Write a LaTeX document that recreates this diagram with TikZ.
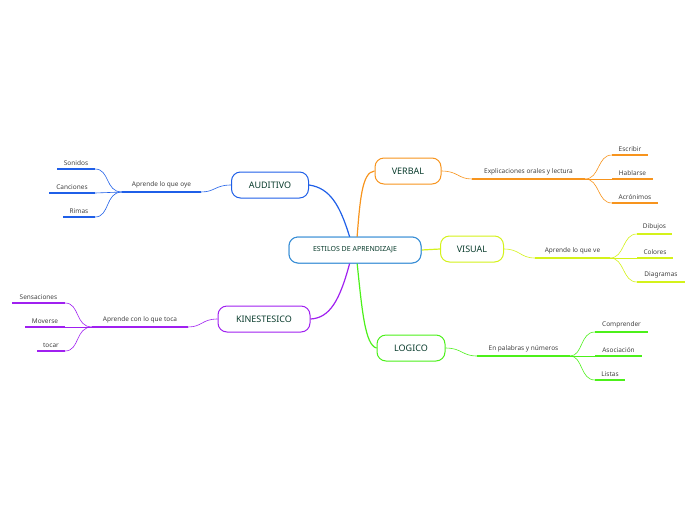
\documentclass[tikz,border=0pt]{standalone}
\usepackage{fontspec}
\setmainfont{Noto Sans}
\begin{document}
\begin{tikzpicture}[x=1pt,y=-1pt,
 main/.style={draw=#1,line width=1pt,rounded corners=9pt,fill=white,minimum height=26pt,font=\fontsize{9}{10}\selectfont,text=txt,inner xsep=8pt},
 lab/.style={font=\fontsize{6.5}{8}\selectfont,text=black!75,inner sep=1pt,anchor=south},
 thick1/.style={draw=#1,line width=1.6pt},
 thin1/.style={draw=#1,line width=0.6pt},
 mid/.style={draw=#1,line width=1.2pt}]
\definecolor{txt}{HTML}{0B3D2E}
\definecolor{cb}{HTML}{1F5FE8}
\definecolor{cp}{HTML}{A020F0}
\definecolor{co}{HTML}{F7941D}
\definecolor{cy}{HTML}{D4F21A}
\definecolor{cg}{HTML}{4CF01A}
\definecolor{cc}{HTML}{3A8FD6}
\useasboundingbox (0,0) rectangle (696,520);
% central
\node[main=cc,minimum width=132pt,font=\fontsize{7}{8}\selectfont] (c) at (355,250) {ESTILOS DE APRENDIZAJE};
\node[main=cb,minimum width=77pt] (au) at (270,185) {AUDITIVO};
\node[main=cp,minimum width=92pt] (ki) at (264,319) {KINESTESICO};
\node[main=co,minimum width=66pt] (ve) at (408,171) {VERBAL};
\node[main=cy,minimum width=63pt] (vi) at (472,249) {VISUAL};
\node[main=cg,minimum width=68pt] (lo) at (411,348) {LOGICO};
\begin{scope}[on background layer/.style={}]
\end{scope}
% central connectors
\coordinate (c1) at (350,238); \coordinate (c2) at (357,238);
\coordinate (c3) at (350,262); \coordinate (c4) at (357,262);
\draw[mid=cb] (c1) .. controls (340,205) and (330,188) .. (au.east);
\draw[mid=co] (c2) .. controls (360,200) and (362,172) .. (ve.west);
\draw[mid=cp] (c3) .. controls (340,300) and (330,318) .. (ki.east);
\draw[mid=cg] (c4) .. controls (362,310) and (365,345) .. (lo.west);
\draw[mid=cy] (c.east) -- (vi.west);
% AUDITIVO
\coordinate (a1) at (201,192); \coordinate (a0) at (122,192);
\draw[thin1=cb] (au.west) .. controls (215,185) and (215,192) .. (a1);
\draw[thick1=cb] (a0) -- (a1) node[lab,midway,yshift=2pt] (at) {Aprende lo que oye};
\coordinate (a2) at (95,169);\coordinate (a3) at (95,193);\coordinate (a4) at (95,217);
\draw[thin1=cb] (a0) .. controls (105,192) and (110,169) .. (a2);
\draw[thin1=cb] (a0) -- (a3);
\draw[thin1=cb] (a0) .. controls (105,192) and (110,217) .. (a4);
\draw[thick1=cb] (57,169) -- (a2) node[lab,midway,yshift=2pt] (s1) {Sonidos};
\draw[thick1=cb] (49,193) -- (a3) node[lab,midway,yshift=2pt] (s2) {Canciones};
\draw[thick1=cb] (63,217) -- (a4) node[lab,midway,yshift=2pt] (s3) {Rimas};
% KINESTESICO
\coordinate (k1) at (188,327); \coordinate (k0) at (92,327);
\draw[thin1=cp] (ki.west) .. controls (202,319) and (202,327) .. (k1);
\draw[thick1=cp] (k0) -- (k1) node[lab,midway,yshift=2pt] (kt) {Aprende con lo que toca};
\coordinate (k2) at (65,303);\coordinate (k3) at (65,327);\coordinate (k4) at (65,351);
\draw[thin1=cp] (k0) .. controls (75,327) and (80,303) .. (k2);
\draw[thin1=cp] (k0) -- (k3);
\draw[thin1=cp] (k0) .. controls (75,327) and (80,351) .. (k4);
\draw[thick1=cp] (12,303) -- (k2) node[lab,midway,yshift=2pt] (ks1) {Sensaciones};
\draw[thick1=cp] (25,327) -- (k3) node[lab,midway,yshift=2pt] (ks2) {Moverse};
\draw[thick1=cp] (37,351) -- (k4) node[lab,midway,yshift=2pt] (ks3) {tocar};
% VERBAL
\coordinate (v1) at (472,179); \coordinate (v0) at (585,179);
\draw[thin1=co] (ve.east) .. controls (458,171) and (458,179) .. (v1);
\draw[thick1=co] (v1) -- (v0) node[lab,midway,yshift=2pt] (vt) {Explicaciones orales y lectura};
\coordinate (v2) at (612,155);\coordinate (v3) at (612,179);\coordinate (v4) at (612,203);
\draw[thin1=co] (v0) .. controls (600,179) and (597,155) .. (v2);
\draw[thin1=co] (v0) -- (v3);
\draw[thin1=co] (v0) .. controls (600,179) and (597,203) .. (v4);
\draw[thick1=co] (v2) -- (648,155) node[lab,midway,yshift=2pt] (vs1) {Escribir};
\draw[thick1=co] (v3) -- (653,179) node[lab,midway,yshift=2pt] (vs2) {Hablarse};
\draw[thick1=co] (v4) -- (658,203) node[lab,midway,yshift=2pt] (vs3) {Acrónimos};
% VISUAL
\coordinate (w1) at (535,258); \coordinate (w0) at (610,258);
\draw[thin1=cy] (vi.east) .. controls (520,249) and (520,258) .. (w1);
\draw[thick1=cy] (w1) -- (w0) node[lab,midway,yshift=2pt] (wt) {Aprende lo que ve};
\coordinate (w2) at (637,234);\coordinate (w3) at (637,258);\coordinate (w4) at (637,282);
\draw[thin1=cy] (w0) .. controls (625,258) and (622,234) .. (w2);
\draw[thin1=cy] (w0) -- (w3);
\draw[thin1=cy] (w0) .. controls (625,258) and (622,282) .. (w4);
\draw[thick1=cy] (w2) -- (672,234) node[lab,midway,yshift=2pt] (ws1) {Dibujos};
\draw[thick1=cy] (w3) -- (673,258) node[lab,midway,yshift=2pt] (ws2) {Colores};
\draw[thick1=cy] (w4) -- (685,282) node[lab,midway,yshift=2pt] (ws3) {Diagramas};
% LOGICO
\coordinate (l1) at (477,356); \coordinate (l0) at (570,356);
\draw[thin1=cg] (lo.east) .. controls (462,348) and (462,356) .. (l1);
\draw[thick1=cg] (l1) -- (l0) node[lab,midway,yshift=2pt] (lt) {En palabras y números};
\coordinate (l2) at (595,332);\coordinate (l3) at (595,356);\coordinate (l4) at (595,380);
\draw[thin1=cg] (l0) .. controls (583,356) and (580,332) .. (l2);
\draw[thin1=cg] (l0) -- (l3);
\draw[thin1=cg] (l0) .. controls (583,356) and (580,380) .. (l4);
\draw[thick1=cg] (l2) -- (648,332) node[lab,midway,yshift=2pt] (ls1) {Comprender};
\draw[thick1=cg] (l3) -- (642,356) node[lab,midway,yshift=2pt] (ls2) {Asociación};
\draw[thick1=cg] (l4) -- (625,380) node[lab,midway,yshift=2pt] (ls3) {Listas};
% redraw nodes on top
\node[main=cc,minimum width=132pt,font=\fontsize{7}{8}\selectfont] at (355,250) {ESTILOS DE APRENDIZAJE};
\end{tikzpicture}
\end{document}
